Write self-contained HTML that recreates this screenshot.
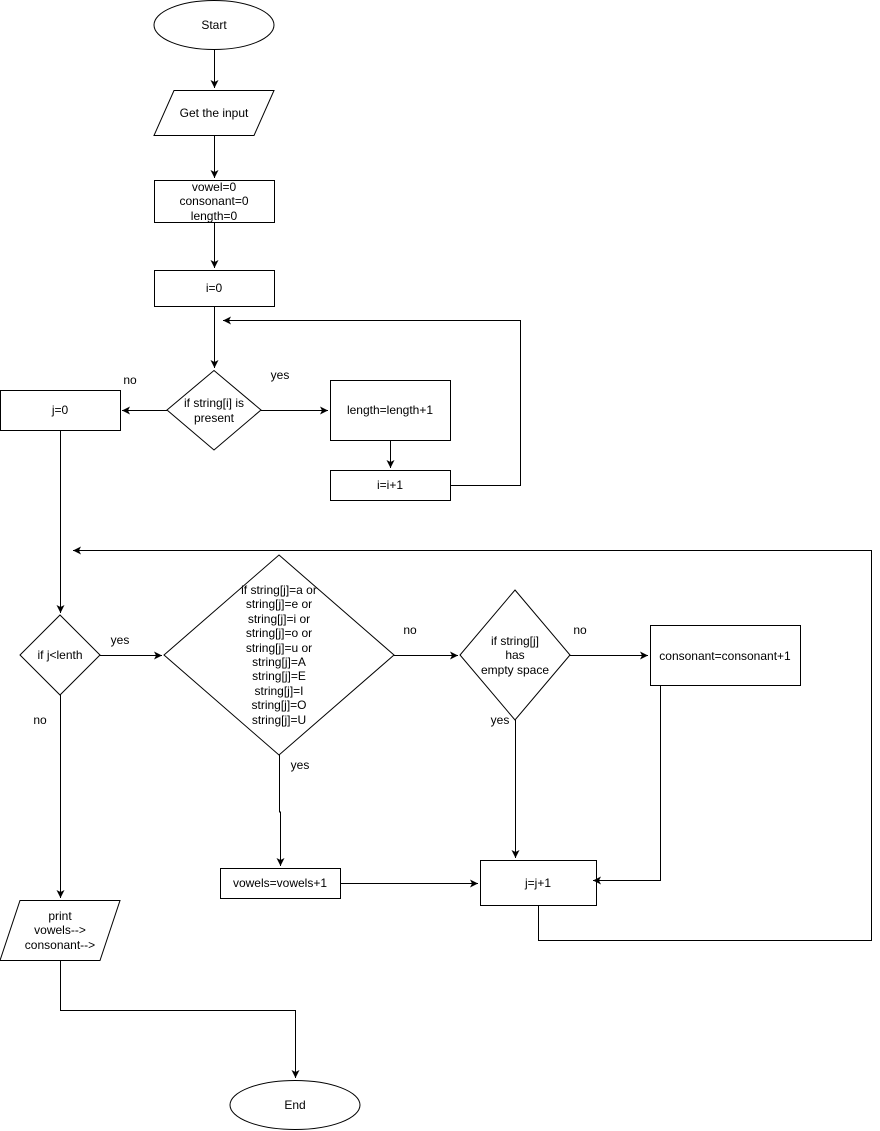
<!DOCTYPE html>
<html><head><meta charset="utf-8"><style>
html,body{margin:0;padding:0;background:#fff}
svg{display:block}
text{font-family:"Liberation Sans",Arial,sans-serif;font-size:12px;fill:#000}
</style></head><body>
<svg width="880" height="1131" viewBox="0 0 880 1131" xmlns="http://www.w3.org/2000/svg">
<defs><marker id="a" markerWidth="10" markerHeight="10" refX="8" refY="4" orient="auto" markerUnits="userSpaceOnUse"><path d="M0,0 L8,4 L0,8 L2,4 z" fill="#000"/></marker></defs>
<g fill="none" stroke="#000" stroke-width="1">
<ellipse cx="214" cy="25" rx="60" ry="24.5" fill="#fff"/>
<polygon points="174,90.5 274,90.5 254,135.5 154,135.5" fill="#fff"/>
<rect x="154.5" y="180.5" width="120" height="42"/>
<rect x="154.5" y="270.5" width="120" height="36"/>
<polygon points="214,370.5 261,410 214,450 167,410"/>
<rect x="0.5" y="390.5" width="120" height="40"/>
<rect x="330.5" y="380.5" width="120" height="60"/>
<rect x="330.5" y="470.5" width="120" height="30"/>
<polygon points="60,615 100,655 60,695 20,655"/>
<polygon points="279,555 394,655 279,755 164,655"/>
<polygon points="515,590 570,655 515,720 460,655"/>
<rect x="650.5" y="625.5" width="150" height="60"/>
<rect x="480.5" y="860.5" width="116" height="45"/>
<rect x="220.5" y="868.5" width="120" height="30"/>
<polygon points="20,900.5 120,900.5 100,960.5 0,960.5"/>
<ellipse cx="295" cy="1105" rx="65" ry="24.5"/>
<path d="M214.5,50 V88" marker-end="url(#a)"/>
<path d="M214.5,135 V178" marker-end="url(#a)"/>
<path d="M214.5,222 V268" marker-end="url(#a)"/>
<path d="M214.5,306 V368" marker-end="url(#a)"/>
<path d="M167,410.5 H122" marker-end="url(#a)"/>
<path d="M261,410.5 H328" marker-end="url(#a)"/>
<path d="M390.5,440 V468" marker-end="url(#a)"/>
<path d="M450,485.5 H520.5 V320.5 H223" marker-end="url(#a)"/>
<path d="M60.5,430 V613" marker-end="url(#a)"/>
<path d="M100,655.5 H162" marker-end="url(#a)"/>
<path d="M394,655.5 H458" marker-end="url(#a)"/>
<path d="M570,655.5 H648" marker-end="url(#a)"/>
<path d="M660.5,685 V880.5 H593" marker-end="url(#a)"/>
<path d="M515.5,720 V858" marker-end="url(#a)"/>
<path d="M279.5,755 V812 H280.5 V866" marker-end="url(#a)"/>
<path d="M340,883.5 H478" marker-end="url(#a)"/>
<path d="M538.5,905 V940.5 H871.5 V550.5 H73" marker-end="url(#a)"/>
<path d="M60.5,695 V898" marker-end="url(#a)"/>
<path d="M60.5,960 V1010.5 H295.5 V1078" marker-end="url(#a)"/>
</g>
<g text-anchor="middle">
<text x="214" y="29">Start</text>
<text x="214" y="117">Get the input</text>
<text x="214" y="191">vowel=0</text>
<text x="214" y="205">consonant=0</text>
<text x="214" y="220">length=0</text>
<text x="214" y="292">i=0</text>
<text x="214" y="407">if string[i] is</text>
<text x="214" y="422">present</text>
<text x="60" y="414">j=0</text>
<text x="390" y="414">length=length+1</text>
<text x="390" y="489">i=i+1</text>
<text x="60" y="659">if j&lt;lenth</text>
<text x="279" y="594">if string[j]=a or</text>
<text x="279" y="608">string[j]=e or</text>
<text x="279" y="623">string[j]=i or</text>
<text x="279" y="637">string[j]=o or</text>
<text x="279" y="652">string[j]=u or</text>
<text x="279" y="666">string[j]=A</text>
<text x="279" y="680">string[j]=E</text>
<text x="279" y="695">string[j]=I</text>
<text x="279" y="709">string[j]=O</text>
<text x="279" y="724">string[j]=U</text>
<text x="515" y="645">if string[j]</text>
<text x="515" y="659">has</text>
<text x="515" y="674">empty space</text>
<text x="725" y="660">consonant=consonant+1</text>
<text x="538" y="887">j=j+1</text>
<text x="280" y="887">vowels=vowels+1</text>
<text x="60" y="920">print</text>
<text x="60" y="934">vowels--&gt;</text>
<text x="60" y="949">consonant--&gt;</text>
<text x="295" y="1109">End</text>
<text x="130" y="384">no</text>
<text x="280" y="379">yes</text>
<text x="120" y="644">yes</text>
<text x="40" y="724">no</text>
<text x="410" y="634">no</text>
<text x="300" y="769">yes</text>
<text x="580" y="634">no</text>
<text x="500" y="724">yes</text>
</g>
</svg>
</body></html>
